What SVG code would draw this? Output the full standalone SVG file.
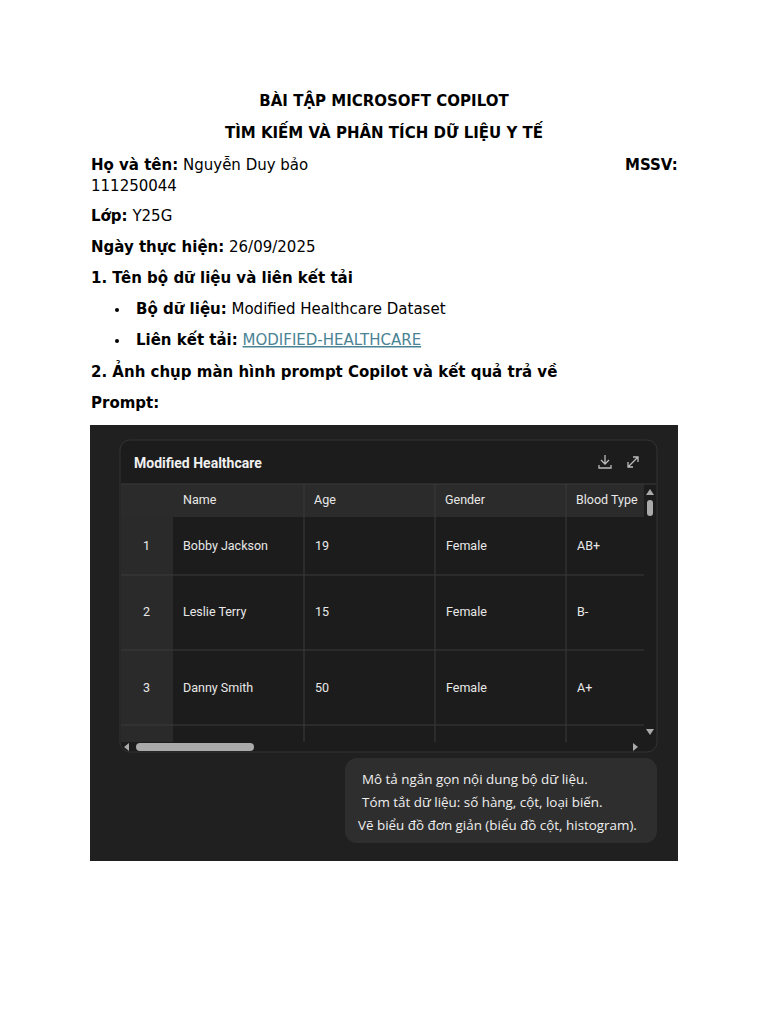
<svg xmlns="http://www.w3.org/2000/svg" width="768" height="1024" viewBox="0 0 768 1024">
<style>
.d{font-family:"DejaVu Sans",sans-serif;font-size:15px;fill:#000}
.b{font-weight:bold}
.t{font-family:Roboto,"Liberation Sans",sans-serif;font-size:12.5px;fill:#e8e8e8}
.g{stroke:#3a3a3a;stroke-width:1}
</style>
<rect width="768" height="1024" fill="#fff"/>
<g id="doc">
<text class="d b" x="384" y="106" text-anchor="middle">BÀI TẬP MICROSOFT COPILOT</text>
<text class="d b" x="384" y="138" text-anchor="middle">TÌM KIẾM VÀ PHÂN TÍCH DỮ LIỆU Y TẾ</text>
<text class="d" x="91" y="170"><tspan class="b">Họ và tên:</tspan> Nguyễn Duy bảo</text>
<text class="d b" x="625" y="170">MSSV:</text>
<text class="d" x="91" y="191">111250044</text>
<text class="d" x="91" y="221"><tspan class="b">Lớp:</tspan> Y25G</text>
<text class="d" x="91" y="252"><tspan class="b">Ngày thực hiện:</tspan> 26/09/2025</text>
<text class="d b" x="91" y="283">1. Tên bộ dữ liệu và liên kết tải</text>
<circle cx="117" cy="310" r="2" fill="#000"/>
<text class="d" x="136" y="314"><tspan class="b">Bộ dữ liệu:</tspan> Modified Healthcare Dataset</text>
<circle cx="117" cy="341" r="2" fill="#000"/>
<text class="d" x="136" y="345"><tspan class="b">Liên kết tải:</tspan> <tspan fill="#4a8394" text-decoration="underline">MODIFIED-HEALTHCARE</tspan></text>
<text class="d b" x="91" y="377">2. Ảnh chụp màn hình prompt Copilot và kết quả trả về</text>
<text class="d b" x="91" y="408">Prompt:</text>
</g>
<g id="screenshot">
<rect x="90" y="425" width="588" height="436" fill="#202020"/>
<rect x="120" y="440" width="537" height="312" rx="10" fill="#1c1c1c" stroke="#333"/>
<text x="134" y="468" font-family="Roboto,'Liberation Sans',sans-serif" font-size="14" font-weight="bold" fill="#f0f0f0">Modified Healthcare</text>
<g stroke="#bbb" stroke-width="1.3" fill="none">
<path d="M605 455v9M601 460l4 4 4-4M599 465v3h12v-3"/>
<path d="M628 467l10-10M633 457h5v5M628 462v5h5"/>
</g>
<rect x="121" y="484" width="523" height="33" fill="#2b2b2b"/>
<rect x="121" y="517" width="52" height="225" fill="#2a2a2a"/>
<g class="g">
<line x1="121" y1="484" x2="656" y2="484"/>
<line x1="121" y1="575" x2="644" y2="575"/>
<line x1="121" y1="650" x2="644" y2="650"/>
<line x1="121" y1="725" x2="644" y2="725"/>
<line x1="304" y1="484" x2="304" y2="742"/>
<line x1="435" y1="484" x2="435" y2="742"/>
<line x1="566" y1="484" x2="566" y2="742"/>
</g>
<text class="t" x="183" y="504">Name</text>
<text class="t" x="314" y="504">Age</text>
<text class="t" x="445" y="504">Gender</text>
<text class="t" x="576" y="504">Blood Type</text>
<text class="t" x="143" y="550">1</text><text class="t" x="183" y="550">Bobby Jackson</text><text class="t" x="315" y="550">19</text><text class="t" x="446" y="550">Female</text><text class="t" x="577" y="550">AB+</text>
<text class="t" x="143" y="616">2</text><text class="t" x="183" y="616">Leslie Terry</text><text class="t" x="315" y="616">15</text><text class="t" x="446" y="616">Female</text><text class="t" x="577" y="616">B-</text>
<text class="t" x="143" y="692">3</text><text class="t" x="183" y="692">Danny Smith</text><text class="t" x="315" y="692">50</text><text class="t" x="446" y="692">Female</text><text class="t" x="577" y="692">A+</text>
<path d="M646 495l4-6 4 6z M646 729l4 6 4-6z" fill="#aaa"/>
<rect x="647" y="500" width="6" height="16" rx="3" fill="#aaa"/>
<path d="M129 743l-5 4 5 4z M633 743l5 4-5 4z" fill="#aaa"/>
<rect x="136" y="743" width="118" height="8" rx="4" fill="#aaa"/>
<rect x="345" y="758" width="312" height="85" rx="12" fill="#2e2e2e"/>
<g font-family="'Open Sans','Noto Sans',sans-serif" font-size="13.4" fill="#eee">
<text x="362" y="784">Mô tả ngắn gọn nội dung bộ dữ liệu.</text>
<text x="362" y="807">Tóm tắt dữ liệu: số hàng, cột, loại biến.</text>
<text x="358" y="830">Vẽ biểu đồ đơn giản (biểu đồ cột, histogram).</text>
</g>
</g>
</svg>
